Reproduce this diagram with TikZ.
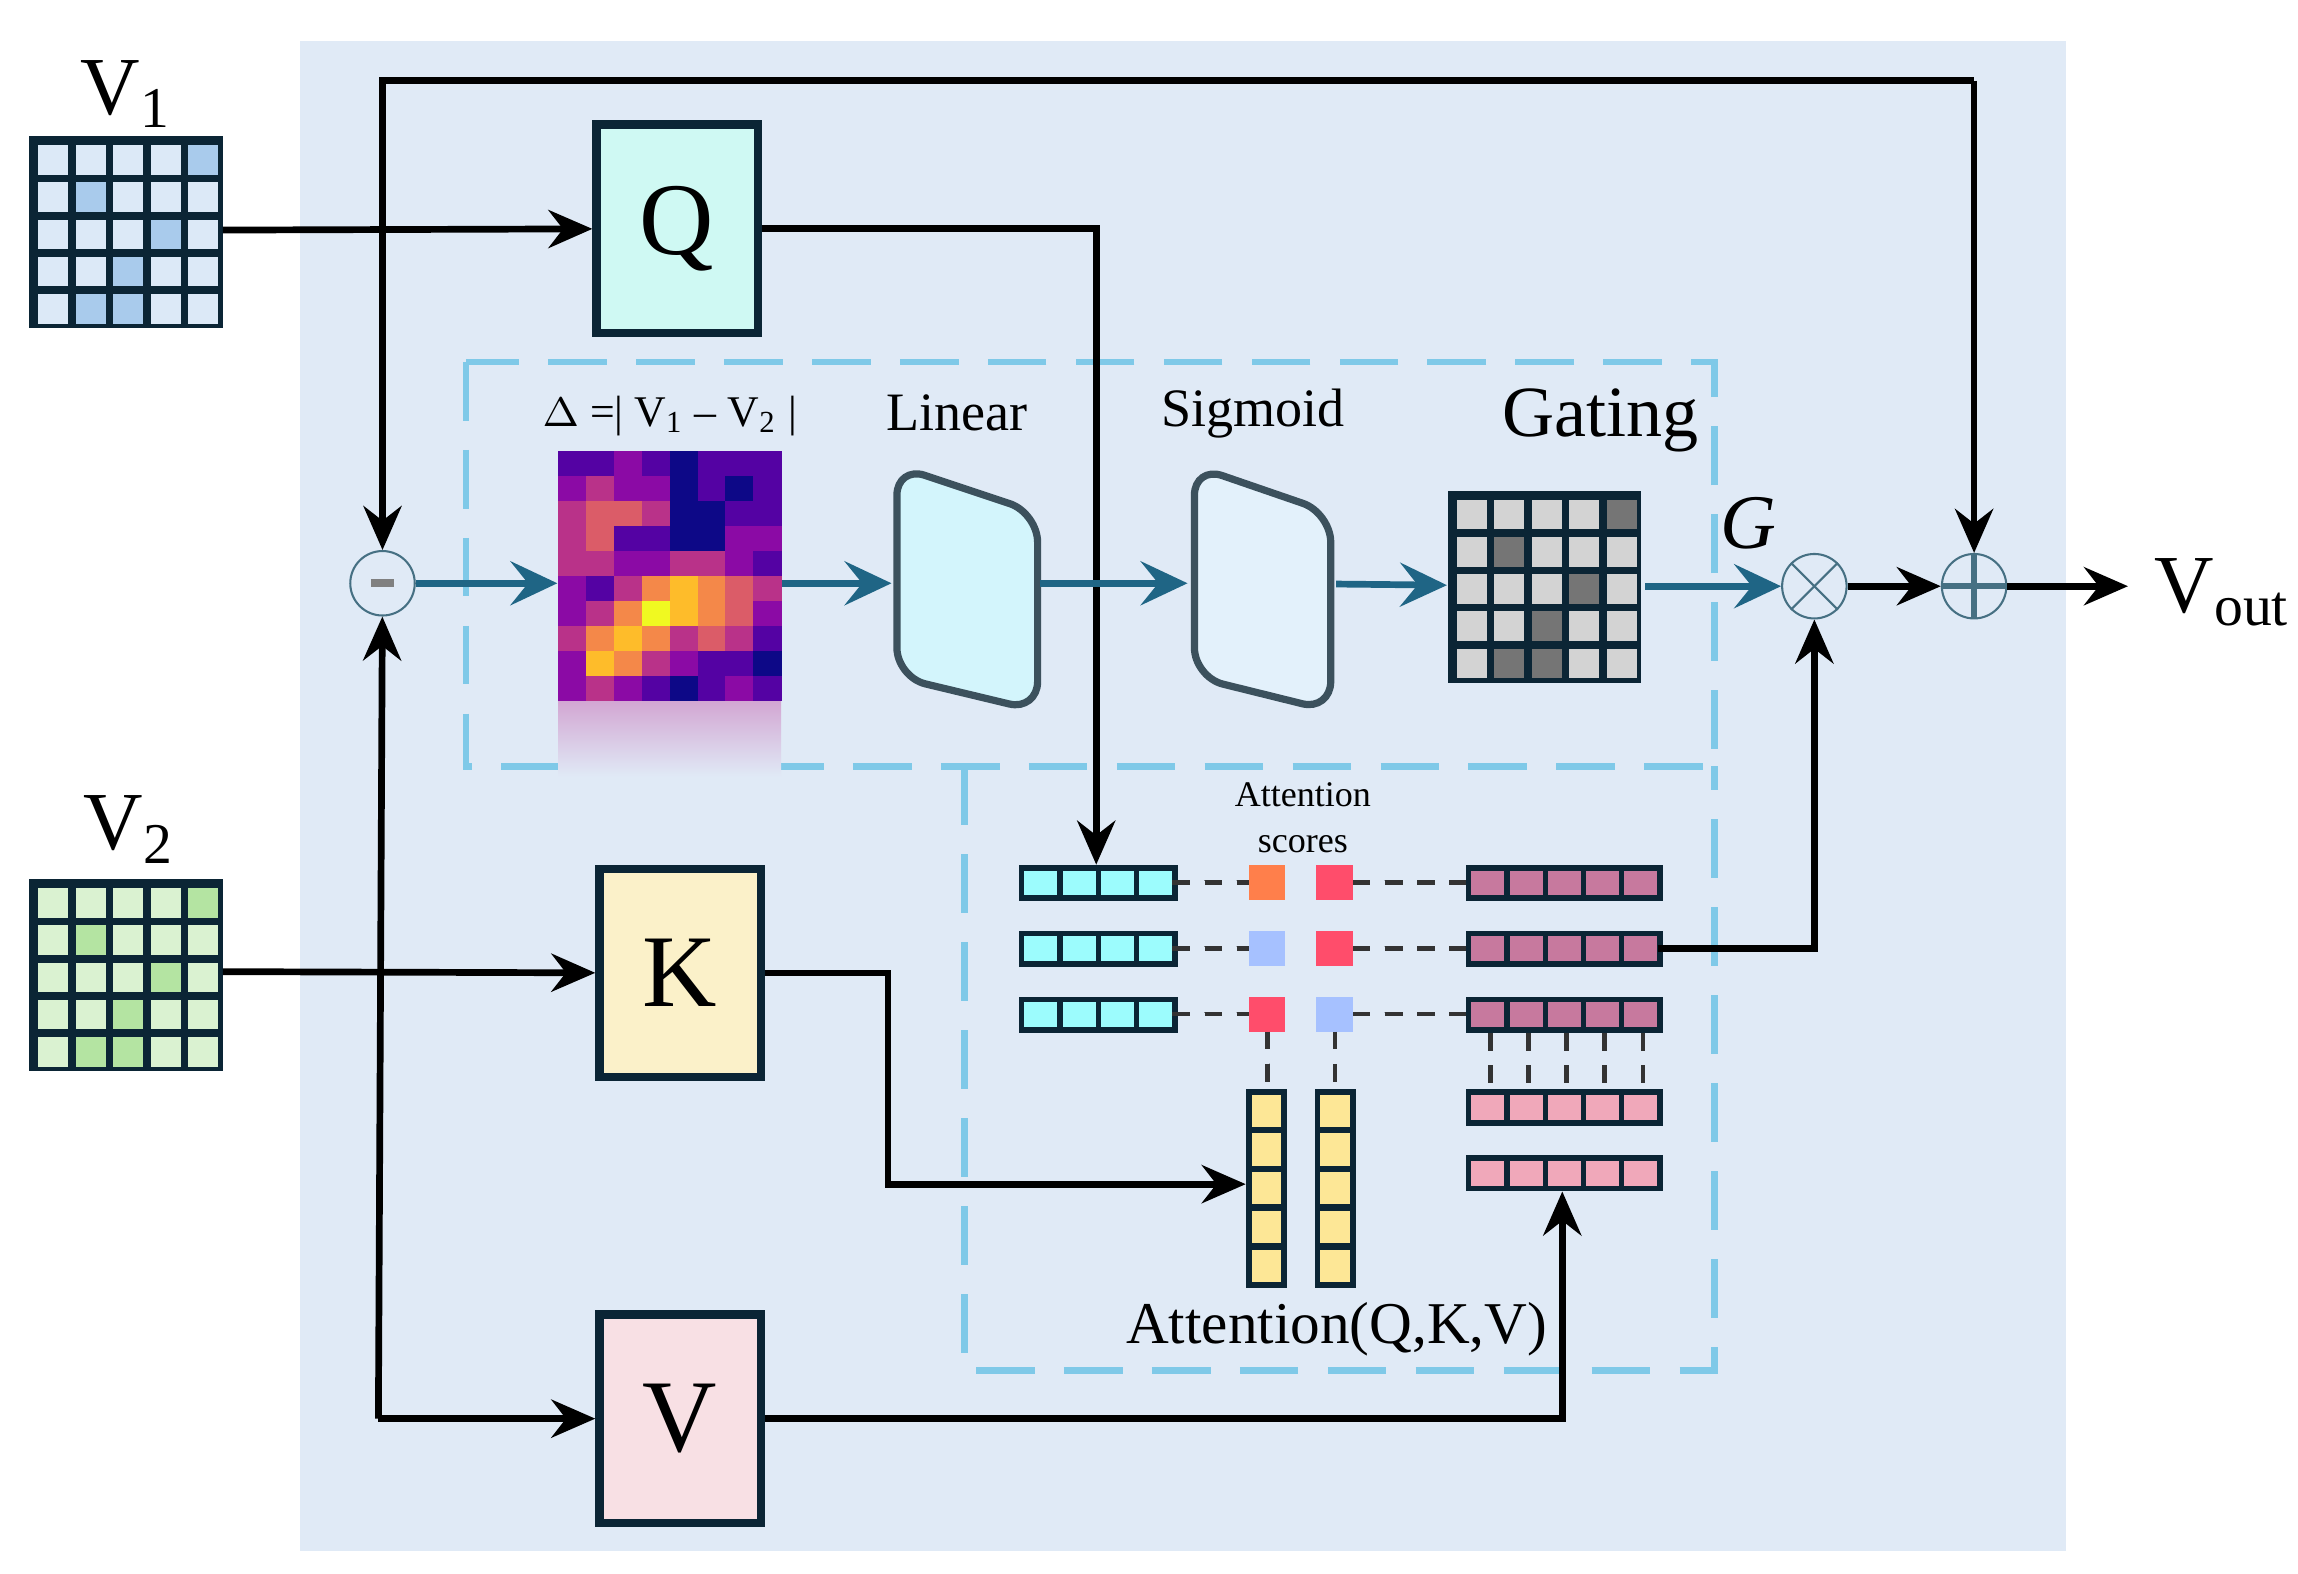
\documentclass[tikz,border=0pt]{standalone}
\usepackage{fontspec}
\setmainfont{Liberation Serif}
\usetikzlibrary{arrows.meta,positioning}

\definecolor{panel}{HTML}{E0EAF6}
\definecolor{frame}{HTML}{0B2535}
\definecolor{dashblue}{HTML}{7FC9E8}
\definecolor{flow}{HTML}{1F6585}
\definecolor{qfill}{HTML}{CFF9F3}
\definecolor{kfill}{HTML}{FBF1C9}
\definecolor{vfill}{HTML}{F8E0E4}
\definecolor{linfill}{HTML}{D3F5FC}
\definecolor{sigfill}{HTML}{E3F1FB}
\definecolor{blueL}{HTML}{DCE9F7}
\definecolor{blueD}{HTML}{A9CBEC}
\definecolor{greenL}{HTML}{DAF2D1}
\definecolor{greenD}{HTML}{B4E4A2}
\definecolor{grayL}{HTML}{D3D3D3}
\definecolor{grayD}{HTML}{757575}
\definecolor{cyancell}{HTML}{9CFCFD}
\definecolor{purplecell}{HTML}{C7799E}
\definecolor{pinkcell}{HTML}{F0A8BA}
\definecolor{yellowcell}{HTML}{FDE796}
\definecolor{scoreO}{HTML}{FF7F4B}
\definecolor{scoreR}{HTML}{FF4D6B}
\definecolor{scoreB}{HTML}{A6C1FF}
\definecolor{hm0}{HTML}{0D0887}
\definecolor{hm1}{HTML}{5402A3}
\definecolor{hm2}{HTML}{8B0AA5}
\definecolor{hm3}{HTML}{B93289}
\definecolor{hm4}{HTML}{DB5C68}
\definecolor{hm5}{HTML}{F48849}
\definecolor{hm6}{HTML}{FEBC2A}
\definecolor{hm7}{HTML}{F0F921}

\tikzset{
  wire/.style={line width=1.3pt, -{Stealth[length=3mm,width=2.6mm,inset=1mm]}},
  teal/.style={line width=1.3pt, draw=flow, -{Stealth[length=3.2mm,width=3mm,inset=1.2mm]}},
  proj/.style={draw=frame, line width=1.6pt, minimum width=11mm, minimum height=14.2mm, font=\fontsize{20}{20}\selectfont},
  op/.style={circle, draw=flow!60!gray, thin, minimum size=4.4mm, inner sep=0pt},
  region/.style={draw=dashblue, line width=1.3pt, dash pattern=on 4mm off 2mm},
  link/.style={line width=0.9pt, dash pattern=on 1.2mm off 1mm, draw=black!80},
  trap/.style={draw=frame!80, line width=1.4pt, rounded corners=2mm},
  hidden/.style={inner sep=0pt, minimum width=10mm, minimum height=17mm},
}

% 5x5 grid: x0, y0 (top left), light, dark
\newcommand{\matgrid}[4]{%
  \fill[frame] (#1,#2) rectangle ++(132,131);
  \foreach \r in {0,...,4}
    \foreach \c in {0,...,4}
      \fill[#3] (#1+6+\c*25.6,#2+6+\r*25.4) rectangle ++(20.4,20.2);
  \foreach \r/\c in {0/4,1/1,2/3,3/2,4/1,4/2}
    \fill[#4] (#1+6+\c*25.6,#2+6+\r*25.4) rectangle ++(20.4,20.2);
}
% row of cells: x0, y0, n, colour
\newcommand{\cellrow}[4]{%
  \fill[frame] (#1,#2) rectangle ++(#3*26+5,25);
  \foreach \c in {1,...,#3}
    \fill[#4] (#1+4+\c*26-26,#2+4) rectangle ++(22.5,17);
}
% column of cells: x0, y0, n, colour
\newcommand{\cellcol}[4]{%
  \fill[frame] (#1,#2) rectangle ++(28,#3*26.4+4);
  \foreach \c in {1,...,#3}
    \fill[#4] (#1+4,#2+4+\c*26.4-26.4) rectangle ++(20,22);
}

\begin{document}
\begin{tikzpicture}[x=0.1mm, y=-0.1mm]
  \useasboundingbox (0,0) rectangle (1568,1074);
  \fill[panel] (205,28) rectangle (1410,1058);

  % inputs
  \matgrid{20}{93}{blueL}{blueD}
  \matgrid{20}{600}{greenL}{greenD}
  \node[font=\fontsize{16}{16}\selectfont] (v1lab) at (86,64) {V\textsubscript{1}};
  \node[font=\fontsize{16}{16}\selectfont] (v2lab) at (88,566) {V\textsubscript{2}};
  \coordinate (v1) at (152,157);
  \coordinate (v2) at (152,663);

  % dashed regions
  \draw[region] (318,247) rectangle (1170,523);
  \draw[region] (658,523) -- (658,935) -- (1170,935) -- (1170,523);

  % projections
  \node[proj, fill=qfill] (q) at (462,156) {Q};
  \node[proj, fill=kfill] (k) at (464,664) {K};
  \node[proj, fill=vfill] (v) at (464,968) {V};

  % difference map
  \node[op] (minus) at (261,398) {};
  \draw[gray, line width=1.6pt] (253,398) -- (269,398);
  \node[font=\fontsize{8.5}{9}\selectfont] (dlab) at (457,284) {$\Delta$ =| V\textsubscript{1} -- V\textsubscript{2} |};
  \shade[top color=violet!35, bottom color=panel] (381,478) rectangle (533,530);
  \foreach \row [count=\r from 0] in {
      {1,1,2,1,0,1,1,1},{2,3,2,2,0,1,0,1},{3,4,4,3,0,0,1,1},{3,4,1,1,0,0,2,2},
      {3,3,2,2,3,3,2,1},{2,1,3,5,6,5,4,3},{2,3,5,7,6,5,4,2},{3,5,6,5,3,4,3,1},
      {2,6,5,3,2,1,1,0},{2,3,2,1,0,1,2,1}}
    \foreach \c [count=\k from 0] in \row
      \fill[hm\c] (381+\k*19,308+\r*17) rectangle ++(19.4,17.4);
  \node[hidden, minimum width=15.2mm] (heat) at (457,398) {};

  % linear and sigmoid
  \draw[trap, fill=linfill] (612,318) -- (708,350) -- (708,485) -- (612,462) -- cycle;
  \draw[trap, fill=sigfill] (815,318) -- (908,350) -- (908,485) -- (815,462) -- cycle;
  \node[hidden] (lin) at (659,398) {};
  \node[hidden] (sig) at (861,398) {};
  \node[font=\fontsize{10.5}{11}\selectfont] (linlab) at (653,282) {Linear};
  \node[font=\fontsize{10.5}{11}\selectfont] (siglab) at (855,282) {Sigmoid};

  % gating map
  \matgrid{988}{335}{grayL}{grayD}
  \node[hidden, minimum width=13.4mm, minimum height=13mm] (gate) at (1055,400) {};
  \node[font=\fontsize{14}{14}\selectfont] (gatelab) at (1092,287) {Gating};
  \node[font=\fontsize{15}{15}\selectfont\itshape] (glab) at (1193,357) {G};

  % fusion
  \node[op] (mul) at (1238,400) {};
  \draw[flow!60!gray, thin] (mul.north west) -- (mul.south east) (mul.north east) -- (mul.south west);
  \node[op] (add) at (1347,400) {};
  \draw[flow!60!gray, line width=1.2pt] (add.north) -- (add.south) (add.west) -- (add.east);
  \coordinate (out) at (1452,400);
  \node[font=\fontsize{16}{16}\selectfont, anchor=west, inner sep=1pt] (vout) at (1466,404) {V\textsubscript{out}};

  % attention
  \foreach \y in {590,635,680} \cellrow{695}{\y}{4}{cyancell}
  \foreach \y in {590,635,680} \cellrow{1000}{\y}{5}{purplecell}
  \foreach \y in {743,788} \cellrow{1000}{\y}{5}{pinkcell}
  \cellcol{850}{743}{5}{yellowcell}
  \cellcol{897}{743}{5}{yellowcell}
  \foreach \y/\a/\b in {590/scoreO/scoreR,635/scoreB/scoreR,680/scoreR/scoreB}{
    \draw[link] (800,\y+12) -- (852,\y+12);
    \draw[link] (923,\y+12) -- (1000,\y+12);
    \fill[\a] (852,\y) rectangle ++(25,24);
    \fill[\b] (898,\y) rectangle ++(25,24);
  }
  \draw[link] (865,704) -- (865,743);
  \draw[link] (911,704) -- (911,743);
  \foreach \c in {1,...,5}
    \draw[link] (1004+\c*26-13,705) -- (1004+\c*26-13,743);
  \coordinate (qin) at (748,590);
  \coordinate (kin) at (850,808);
  \coordinate (vin) at (1066,813);
  \coordinate (aout) at (1131,647);
  \node[font=\fontsize{7}{9}\selectfont, align=center] (scores) at (889,558) {Attention\\scores};
  \node[font=\fontsize{11.5}{12}\selectfont] (attlab) at (912,907) {Attention(Q,K,V)};

  % connectors
  \draw[wire] (v1) -- (q);
  \draw[wire] (v2) -- (k);
  \draw[wire] (v.west) ++(-148,0) coordinate (vj) -- (v);
  \draw[wire] (vj) -- (minus);
  \draw[wire] (add |- 0,55) coordinate (top) -- (add);
  \draw[wire] (top) -| (minus);
  \draw[wire] (q) -| (qin);
  \draw[wire] (k) -| (606,808) -- (kin);
  \draw[wire] (v) -| (vin);
  \draw[wire] (aout) -| (mul);
  \draw[teal] (minus) -- (heat);
  \draw[teal] (heat) -- (lin);
  \draw[teal] (lin) -- (sig);
  \draw[teal] (sig) -- (gate);
  \draw[teal] (gate) -- (mul);
  \draw[wire] (mul) -- (add);
  \draw[wire] (add) -- (out);
\end{tikzpicture}
\end{document}
